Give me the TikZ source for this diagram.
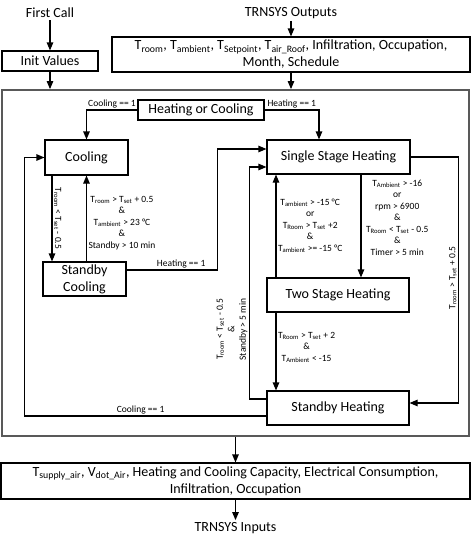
\documentclass[tikz,border=0pt]{standalone}
\usepackage{fontspec}
\setmainfont{Carlito}
\usetikzlibrary{arrows.meta,calc}
\newcommand\sbs[1]{\textsubscript{#1}}
\begin{document}
\begin{tikzpicture}[x=1pt,y=-1pt,
  big/.style={font=\fontsize{14}{17}\selectfont},
  small/.style={font=\fontsize{9.5}{11.5}\selectfont},
  box/.style={draw, line width=1.1pt, rectangle, inner sep=0pt, align=center, big},
  arr/.style={-{Triangle[length=8pt,width=6.5pt]}, line width=1.1pt},
  lab/.style={small, align=center, inner sep=1.5pt},
  plain/.style={big, inner sep=2pt}
]
\useasboundingbox (0,0) rectangle (474,538);
% outer frame
\node[draw=black!65, line width=1.8pt, minimum width=467pt, minimum height=346pt, inner sep=0pt] (main) at (235.5,263) {};
% top
\node[plain] (firstcall) at (50,13) {First Call};
\node[plain] (trnout) at (291,13) {TRNSYS Outputs};
\node[box, minimum width=96pt, minimum height=20pt] (initv) at (50,61) {Init Values};
\node[box, minimum width=358pt, minimum height=35pt] (outs) at (291,54.5) {T\sbs{room}, T\sbs{ambient}, T\sbs{Setpoint}, T\sbs{air\_Roof}, Infiltration, Occupation,\\ Month, Schedule};
% states
\node[box, minimum width=126pt, minimum height=20pt] (hc) at (201,110) {Heating or Cooling};
\node[box, minimum width=83pt, minimum height=35pt] (cool) at (86.5,157.5) {Cooling};
\node[box, minimum width=83pt, minimum height=34pt] (sbc) at (84.5,279) {Standby\\Cooling};
\node[box, minimum width=143pt, minimum height=34pt] (ssh) at (338.5,157) {Single Stage Heating};
\node[box, minimum width=142pt, minimum height=34pt] (tsh) at (338,295) {Two Stage Heating};
\node[box, minimum width=142pt, minimum height=34pt] (sbh) at (338,408) {Standby Heating};
% bottom
\node[box, minimum width=469pt, minimum height=36pt] (ins) at (235.5,481) {T\sbs{supply\_air}, V\sbs{dot\_Air}, Heating and Cooling Capacity, Electrical Consumption,\\ Infiltration, Occupation};
\node[plain] (trnin) at (235.5,528) {TRNSYS Inputs};
% connectors
\draw[arr] (firstcall) -- (initv);
\draw[arr] (trnout) -- (outs);
\draw[arr] (initv.south) -- (initv.south |- main.north);
\draw[arr] (outs.south) -- (outs.south |- main.north);
\draw[arr] (main.south) -- (ins.north);
\draw[arr] (ins) -- (trnin);

\draw[arr] (hc.west) -| node[lab, above, pos=0.25]{Cooling == 1} (cool.north);
\draw[arr] (hc.east) -| node[lab, above, pos=0.25]{Heating == 1} ([xshift=-19.5pt]ssh.north);

\draw[arr] ([xshift=-34.5pt]cool.south) -- node[lab, rotate=-90, anchor=south]{T\sbs{room} < T\sbs{set} - 0.5} ([xshift=-32.5pt]sbc.north);
\draw[arr] ([xshift=2pt]sbc.north) -- node[lab, anchor=west, pos=0.45]{T\sbs{room} > T\sbs{set} + 0.5\\\&\\T\sbs{ambient} > 23 °C\\\&\\Standby > 10 min} (cool.south);

\draw[arr] ([yshift=9pt]sbc.east) -- node[lab, above, pos=0.6]{Heating == 1} ++(91,0) |- ([yshift=8pt]ssh.west);

\draw[arr] ([yshift=9pt]sbh.west) -- ++(-17,0) |- node[lab, rotate=90, anchor=south, pos=0.15]{T\sbs{room} < T\sbs{set} - 0.5\\\&\\Standby > 5 min} ([yshift=-10pt]ssh.west);

\draw[arr] ([yshift=-8pt]sbh.west) -| node[lab, above, pos=0.26]{Cooling == 1} ([xshift=-20pt]cool.west) -- (cool.west);

\draw[arr] ([xshift=22.5pt]ssh.south) -- node[lab, anchor=west, pos=0.42, xshift=3pt]{T\sbs{Ambient} > -16\\or\\rpm > 6900\\\&\\T\sbs{Room} < T\sbs{set} - 0.5\\\&\\Timer > 5 min} ([xshift=23pt]tsh.north);

\draw[arr] ([xshift=-62pt]tsh.north) -- node[lab, anchor=west, pos=0.5]{T\sbs{ambient} > -15 °C\\or\\T\sbs{Room} > T\sbs{set} +2\\\&\\T\sbs{ambient} >= -15 °C} ([xshift=-62.5pt]ssh.south);

\draw[arr] ([xshift=-62pt]tsh.south) -- node[lab, anchor=west, pos=0.45]{T\sbs{Room} > T\sbs{set} + 2\\\&\\T\sbs{Ambient} < -15} ([xshift=-62pt]sbh.north);

\draw[arr] (ssh.east) -- ++(48,0) |- node[lab, rotate=90, anchor=south, pos=0.246]{T\sbs{room} > T\sbs{set} + 0.5} ([yshift=5pt]sbh.east);
\end{tikzpicture}
\end{document}
